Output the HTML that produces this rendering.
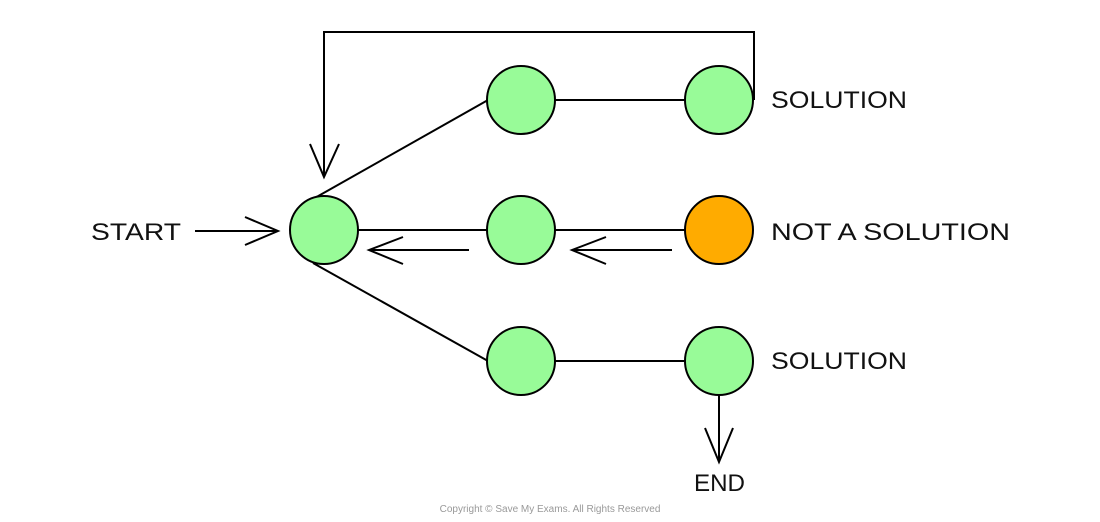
<!DOCTYPE html>
<html><head><meta charset="utf-8"><style>html,body{margin:0;padding:0;background:#fff}svg{display:block}</style></head>
<body>
<svg width="1100" height="522" viewBox="0 0 1100 522" xmlns="http://www.w3.org/2000/svg">
<g fill="none" stroke="#000" stroke-width="2">
<polyline points="324,177 324,32 754,32 754,100"/>
<polyline points="310,144 324,177 339,144"/>
<line x1="313" y1="199" x2="488" y2="100"/>
<line x1="313" y1="263" x2="488" y2="361"/>
<line x1="521" y1="100" x2="719" y2="100"/>
<line x1="323" y1="230" x2="719" y2="230"/>
<line x1="521" y1="361" x2="719" y2="361"/>
<line x1="369" y1="250" x2="469" y2="250"/>
<polyline points="403,237 369,250 403,264"/>
<line x1="572" y1="250" x2="672" y2="250"/>
<polyline points="606,237 572,250 606,264"/>
<line x1="195" y1="231" x2="278" y2="231"/>
<polyline points="245,217 278,231 245,245"/>
<line x1="719" y1="395" x2="719" y2="462"/>
<polyline points="705,428 719,462 733,428"/>
</g>
<g stroke="#000" stroke-width="2" fill="#98fb98">
<circle cx="324" cy="230" r="34"/>
<circle cx="521" cy="100" r="34"/>
<circle cx="719" cy="100" r="34"/>
<circle cx="521" cy="230" r="34"/>
<circle cx="719" cy="230" r="34" fill="#ffab00"/>
<circle cx="521" cy="361" r="34"/>
<circle cx="719" cy="361" r="34"/>
</g>
<g font-family="Liberation Sans, sans-serif" font-size="24" fill="#111">
<text x="771" y="108" textLength="136" lengthAdjust="spacingAndGlyphs">SOLUTION</text>
<text x="771" y="240" textLength="239" lengthAdjust="spacingAndGlyphs">NOT A SOLUTION</text>
<text x="771" y="369" textLength="136" lengthAdjust="spacingAndGlyphs">SOLUTION</text>
<text x="91" y="240" textLength="90" lengthAdjust="spacingAndGlyphs">START</text>
<text x="694" y="491" textLength="51" lengthAdjust="spacingAndGlyphs">END</text>
</g>
<text x="550" y="512" font-family="Liberation Sans, sans-serif" font-size="10" fill="#999" text-anchor="middle">Copyright © Save My Exams. All Rights Reserved</text>
</svg>
</body></html>
